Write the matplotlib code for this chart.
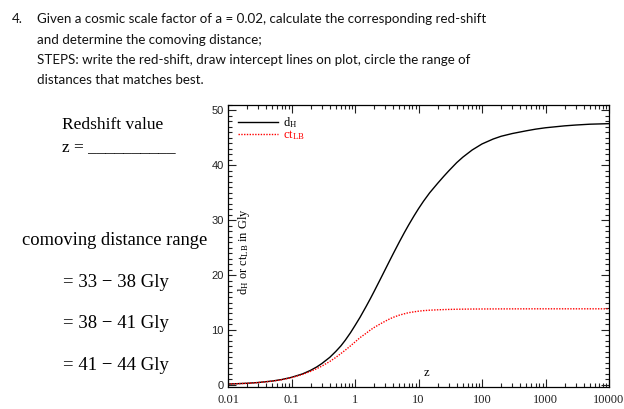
import matplotlib
matplotlib.use('Agg')
import matplotlib.pyplot as plt
from matplotlib.ticker import LogLocator, MultipleLocator, FixedLocator, NullFormatter

# values
z = [0.01, 0.02, 0.03, 0.05, 0.07, 0.1, 0.15, 0.2, 0.25, 0.3, 0.4, 0.5, 0.6,
     0.7, 0.85, 1.0, 1.2, 1.5, 1.75, 2.0, 2.5, 3.0, 3.5, 4.0, 5.0, 6.0, 7.0,
     8.5, 10, 12, 15, 20, 25, 30, 40, 50, 70, 100, 150, 200, 300, 500, 700,
     1000, 2000, 3000, 5000, 10000]
d_h = [0.14, 0.28, 0.42, 0.69, 0.96, 1.36, 2.0, 2.64, 3.26, 3.87, 5.0, 6.1,
       7.1, 8.1, 9.5, 10.8, 12.3, 14.3, 15.73, 17.02, 19.22, 21.04, 22.58,
       23.9, 26.06, 27.76, 29.14, 30.79, 32.1, 33.47, 35.0, 36.72, 38.0, 39.0,
       40.5, 41.5, 42.8, 43.9, 44.8, 45.3, 45.8, 46.3, 46.6, 46.85, 47.2,
       47.35, 47.5, 47.6]
ct_lb = [0.14, 0.27, 0.41, 0.67, 0.92, 1.3, 1.9, 2.45, 2.95, 3.4, 4.25, 5.0,
         5.7, 6.3, 7.1, 7.8, 8.6, 9.4, 10.0, 10.45, 11.1, 11.6, 12.0, 12.3,
         12.7, 12.95, 13.15, 13.3, 13.42, 13.52, 13.6, 13.67, 13.71, 13.74,
         13.77, 13.79, 13.81, 13.82, 13.83, 13.835, 13.84, 13.845, 13.85,
         13.85, 13.85, 13.85, 13.85, 13.85]

x_ticks = [0.01, 0.1, 1, 10, 100, 1000, 10000]
x_tick_labels = ['0.01', '0.1', '1', '10', '100', '1000', '10000']
y_ticks = [0, 10, 20, 30, 40, 50]

question = ["Given a cosmic scale factor of a = 0.02, calculate the corresponding red-shift",
            "and determine the comoving distance;",
            "STEPS: write the red-shift, draw intercept lines on plot, circle the range of",
            "distances that matches best."]
ranges = ['= 33 \u2212 38 Gly', '= 38 \u2212 41 Gly', '= 41 \u2212 44 Gly']

W, H = 624, 409
fig = plt.figure(figsize=(W / 100, H / 100), dpi=100)
fig.patch.set_facecolor('white')


def fx(px):
    return px / W


def fy(py):
    return 1 - py / H


# question text at the top
qfont = dict(family='Lato', fontsize=9.6, color='#111111', va='baseline')
fig.text(fx(12), fy(23), '4.', **qfont)
for i, line in enumerate(question):
    fig.text(fx(37), fy(23 + i * 20.5), line, **qfont)

# left hand worksheet text
sfont = dict(family='Liberation Serif', fontsize=12.5, color='black', va='baseline')
fig.text(fx(62), fy(129), 'Redshift value', **sfont)
fig.text(fx(62), fy(151), 'z = __________', **sfont)
fig.text(fx(22), fy(245), 'comoving distance range', fontsize=13.3,
         **{k: v for k, v in sfont.items() if k != 'fontsize'})
rfont = dict(sfont, fontsize=13.5)
for i, r in enumerate(ranges):
    fig.text(fx(63), fy(287 + i * 41.5), r, **rfont)

# the plot
ax = fig.add_axes([fx(228), fy(387), fx(609 - 228), (387 - 105) / H])
ax.plot(z, d_h, color='black', lw=1.0, label=r'$\mathregular{d_H}$')
ax.plot(z, ct_lb, color='red', lw=1.0, ls=(0, (1, 1)), label=r'$\mathregular{ct_{LB}}$')

ax.set_xscale('log')
ax.set_xlim(0.01, 10000)
ax.set_ylim(-0.4, 51)

ax.xaxis.set_major_locator(FixedLocator(x_ticks))
ax.set_xticklabels(x_tick_labels, family='Liberation Serif', fontsize=9)
ax.xaxis.set_minor_locator(LogLocator(base=10, subs=range(2, 10), numticks=20))
ax.xaxis.set_minor_formatter(NullFormatter())
ax.yaxis.set_major_locator(FixedLocator(y_ticks))
ax.yaxis.set_minor_locator(MultipleLocator(1))
for lab in ax.get_yticklabels():
    lab.set_family('Liberation Sans')
    lab.set_fontsize(8)

ax.tick_params(which='both', direction='in', top=True, right=True, width=0.8, colors='#222222')
ax.tick_params(which='major', length=6, pad=5)
ax.tick_params(which='minor', length=3)
ax.tick_params(axis='y', which='major', pad=3)
for sp in ax.spines.values():
    sp.set_linewidth(0.9)

ax.text(0.042, 0.48, r'$\mathregular{d_H}$ or $\mathregular{ct_{LB}}$ in Gly', transform=ax.transAxes,
        rotation=90, ha='center', va='center', family='Liberation Serif', fontsize=9)
ax.text(0.52, 0.03, 'z', transform=ax.transAxes, ha='center', va='bottom',
        family='Liberation Serif', fontsize=9)

leg = ax.legend(loc='upper left', frameon=False, handlelength=3.2,
                handletextpad=0.4, labelspacing=-0.1, borderaxespad=0.4,
                prop={'family': 'Liberation Serif', 'size': 9}, labelcolor='linecolor')

fig.savefig('out.png', dpi=100, facecolor='white')
